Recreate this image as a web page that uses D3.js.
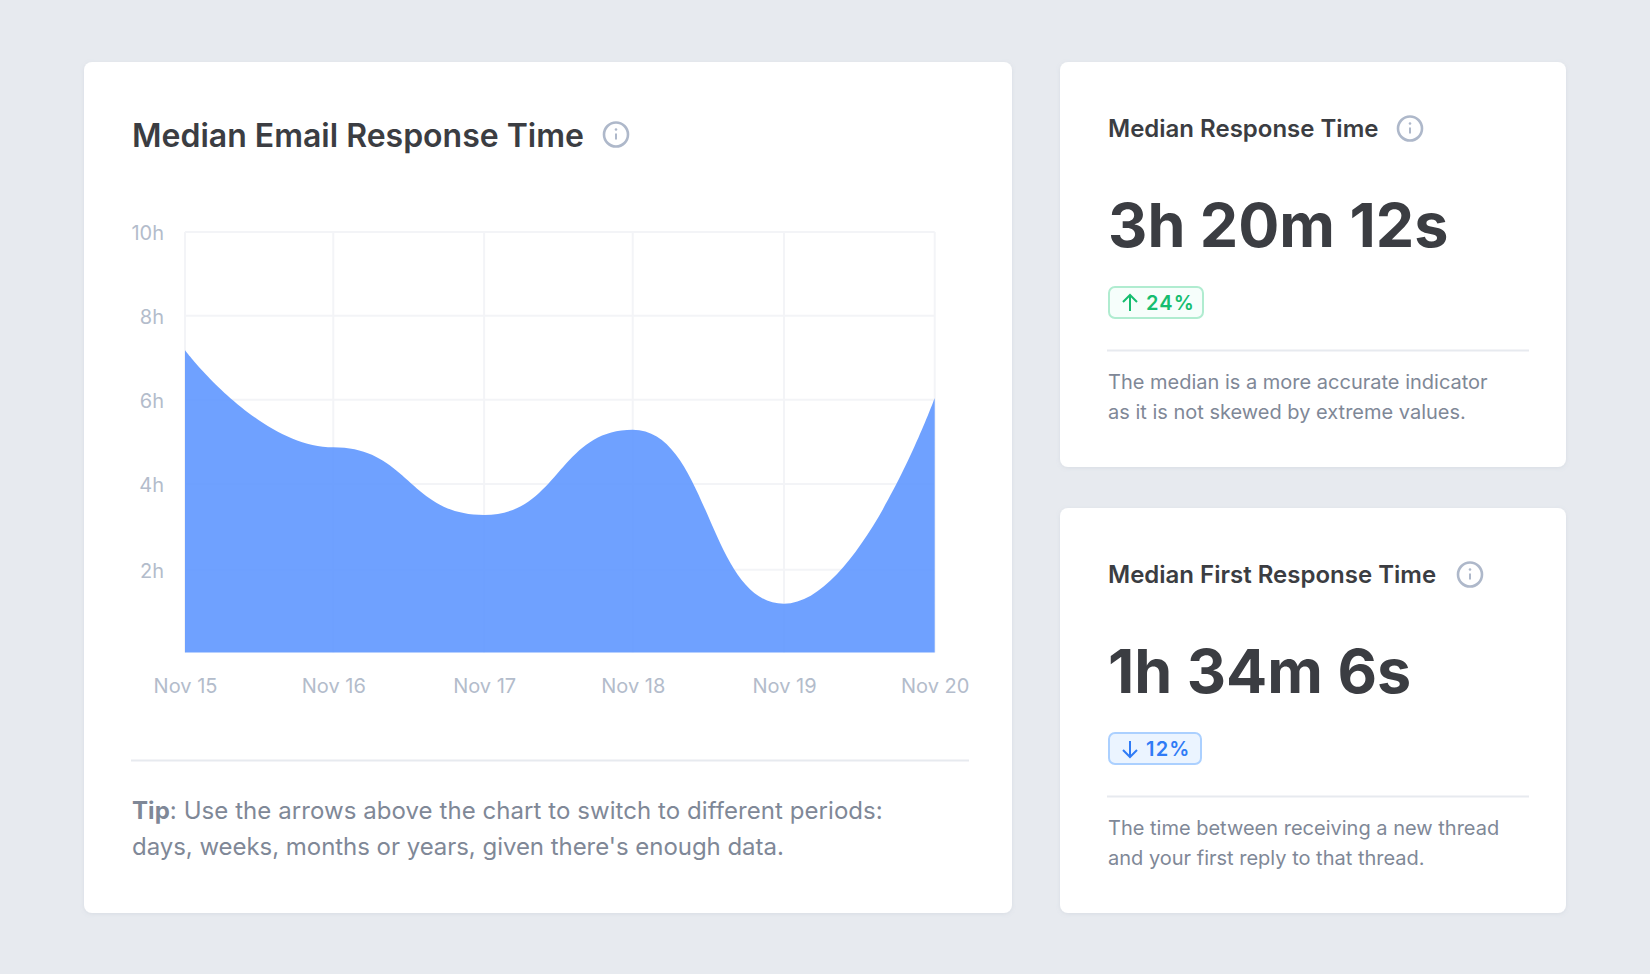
<!DOCTYPE html>
<html>
<head>
<meta charset="utf-8">
<script src="https://cdn.jsdelivr.net/npm/d3@7"></script>
<style>
  html, body { margin: 0; padding: 0; background: #e7eaef; }
  svg { display: block; }
  text { font-family: Inter, "Noto Sans", sans-serif; }
</style>
</head>
<body>
<svg id="page" width="1650" height="974"></svg>
<script>
// chart data
var dayLabels = ['Nov 15', 'Nov 16', 'Nov 17', 'Nov 18', 'Nov 19', 'Nov 20'];
var dayOffsets = [0, 0.989, 1.995, 2.986, 3.995, 5];   // grid is not quite even in the picture
var responseHours = [7.19, 4.88, 3.27, 5.3, 1.16, 6.05];
var hourTicks = [1.97, 4.01, 6.01, 8.01, 10];

var titleMain = 'Median Email Response Time';
var tipBold = 'Tip';
var tipRest = ': Use the arrows above the chart to switch to different periods:';
var tipLine2 = "days, weeks, months or years, given there's enough data.";

var sideTitles = ['Median Response Time', 'Median First Response Time'];
var sideValues = ['3h 20m 12s', '1h 34m 6s'];
var sideChanges = ['24%', '12%'];
var sideNotes = [
  ['The median is a more accurate indicator', 'as it is not skewed by extreme values.'],
  ['The time between receiving a new thread', 'and your first reply to that thread.']
];

var svg = d3.select('#page');

var defs = svg.append('defs');
var shadow = defs.append('filter').attr('id', 'cardShadow')
  .attr('x', '-5%').attr('y', '-5%').attr('width', '110%').attr('height', '110%');
shadow.append('feDropShadow').attr('dx', 0).attr('dy', 1).attr('stdDeviation', 2)
  .attr('flood-color', '#8a94a6').attr('flood-opacity', 0.16);

function card(x, y, w, h) {
  svg.append('rect').attr('x', x).attr('y', y).attr('width', w).attr('height', h)
    .attr('rx', 8).attr('fill', '#fff').attr('filter', 'url(#cardShadow)');
}

function infoIcon(cx, cy) {
  var g = svg.append('g').attr('transform', 'translate(' + cx + ',' + cy + ')')
    .attr('fill', 'none').attr('stroke', '#aeb8ca').attr('stroke-width', 2.6);
  g.append('circle').attr('r', 12);
  g.append('line').attr('x1', 0).attr('x2', 0).attr('y1', -1).attr('y2', 5).attr('stroke-width', 2);
  g.append('circle').attr('cy', -5).attr('r', 1.3).attr('fill', '#aeb8ca').attr('stroke', 'none');
}

// flat at every inner point, handles at half the gap, the two end segments
// have no handle on the outer point
function flatKnots(context) {
  var line = NaN, pts = [];
  return {
    areaStart: function () { line = 0; },
    areaEnd: function () { line = NaN; },
    lineStart: function () { pts = []; },
    point: function (x, y) { pts.push([+x, +y]); },
    lineEnd: function () {
      pts.forEach(function (p, i) {
        if (i == 0) {
          if (line) context.lineTo(p[0], p[1]); else context.moveTo(p[0], p[1]);
          return;
        }
        var q = pts[i - 1], mid = (q[0] + p[0]) / 2;
        context.bezierCurveTo(
          i == 1 ? q[0] : mid, q[1],
          i == pts.length - 1 ? p[0] : mid, p[1],
          p[0], p[1]);
      });
      if (line || (line !== 0 && pts.length == 1)) context.closePath();
      line = 1 - line;
    }
  };
}

// main card
card(84, 62, 928, 851);

svg.append('text').attr('x', 132).attr('y', 147)
  .attr('font-size', 32).attr('font-weight', 600).attr('fill', '#3b3d42').text(titleMain);
infoIcon(616, 134.5);

var plotLeft = 185, plotRight = 934.7, plotTop = 232, plotBottom = 652.5;

var x = d3.scaleLinear().domain([0, 5]).range([plotLeft, plotRight]);
var y = d3.scaleLinear().domain([0, 10]).range([plotBottom, plotTop]);

var grid = svg.append('g').attr('stroke', '#f3f4f7').attr('stroke-width', 2);
grid.selectAll('line.v').data(dayOffsets).enter().append('line').attr('class', 'v')
  .attr('x1', function (d) { return x(d); }).attr('x2', function (d) { return x(d); })
  .attr('y1', plotTop).attr('y2', plotBottom);
grid.selectAll('line.h').data(hourTicks).enter().append('line').attr('class', 'h')
  .attr('x1', plotLeft).attr('x2', plotRight)
  .attr('y1', function (d) { return y(d); }).attr('y2', function (d) { return y(d); });

var area = d3.area()
  .x(function (d, i) { return x(dayOffsets[i]); })
  .y0(y(0))
  .y1(function (d) { return y(d); })
  .curve(flatKnots);

svg.append('path').datum(responseHours).attr('d', area)
  .attr('fill', '#5b94ff').attr('fill-opacity', 0.88);

var yAxis = d3.axisLeft(y).tickValues(hourTicks).tickSize(0).tickPadding(0)
  .tickFormat(function (d) { return Math.round(d) + 'h'; });
var yG = svg.append('g').attr('transform', 'translate(164,1.2)').call(yAxis);
yG.select('.domain').remove();
yG.selectAll('text').attr('font-family', 'Inter').attr('font-size', 20).attr('fill', '#b3bccb');

var xAxis = d3.axisBottom(x).tickValues(dayOffsets).tickSize(0).tickPadding(0)
  .tickFormat(function (d, i) { return dayLabels[i]; });
var xG = svg.append('g').attr('transform', 'translate(0,679)').call(xAxis);
xG.select('.domain').remove();
xG.selectAll('text').attr('font-family', 'Inter').attr('font-size', 20).attr('fill', '#b3bccb');

svg.append('line').attr('x1', 131).attr('x2', 969).attr('y1', 760.5).attr('y2', 760.5)
  .attr('stroke', '#e7eaef').attr('stroke-width', 2);

var tip = svg.append('text').attr('x', 132).attr('y', 819)
  .attr('font-size', 24).attr('letter-spacing', 0.065).attr('fill', '#7f8897');
tip.append('tspan').attr('font-weight', 700).text(tipBold);
tip.append('tspan').text(tipRest);
svg.append('text').attr('x', 132).attr('y', 855).attr('letter-spacing', -0.04)
  .attr('font-size', 24).attr('fill', '#7f8897').text(tipLine2);

// side cards
var sideTops = [62, 508];
var iconX = [1410, 1470];
var badgeWidth = [94, 92];
var badgeStroke = ['#b0ecd0', '#abd0ff'];
var badgeFill = ['#f6fefb', '#ebf4ff'];
var badgeText = ['#16bd6f', '#2f7bf6'];

sideTitles.forEach(function (t, i) {
  var top = sideTops[i];
  card(1060, top, 506, 405);
  svg.append('text').attr('x', 1108).attr('y', top + 75)
    .attr('font-size', 24).attr('font-weight', 600).attr('fill', '#3b3d42').text(t);
  infoIcon(iconX[i], top + 66.5);
  svg.append('text').attr('x', 1108).attr('y', top + 185)
    .attr('font-size', 61).attr('font-weight', 700).attr('fill', '#3b3d42').text(sideValues[i]);

  svg.append('rect').attr('x', 1109).attr('y', top + 225).attr('width', badgeWidth[i]).attr('height', 31)
    .attr('rx', 6).attr('fill', badgeFill[i]).attr('stroke', badgeStroke[i]).attr('stroke-width', 2);
  var ax = 1130, ay0 = top + 233, ay1 = top + 249;
  var arrow = i == 0
    ? 'M' + ax + ' ' + ay1 + 'V' + ay0 + 'M' + (ax - 7) + ' ' + (ay0 + 7) + 'L' + ax + ' ' + ay0 + 'L' + (ax + 7) + ' ' + (ay0 + 7)
    : 'M' + ax + ' ' + ay0 + 'V' + ay1 + 'M' + (ax - 7) + ' ' + (ay1 - 7) + 'L' + ax + ' ' + ay1 + 'L' + (ax + 7) + ' ' + (ay1 - 7);
  svg.append('path').attr('d', arrow).attr('fill', 'none').attr('stroke', badgeText[i]).attr('stroke-width', 2);
  svg.append('text').attr('x', 1146).attr('y', top + 248)
    .attr('font-size', 20).attr('font-weight', 600).attr('letter-spacing', 1.2)
    .attr('fill', badgeText[i]).text(sideChanges[i]);

  svg.append('line').attr('x1', 1107).attr('x2', 1529).attr('y1', top + 288.5).attr('y2', top + 288.5)
    .attr('stroke', '#e7eaef').attr('stroke-width', 2);
  sideNotes[i].forEach(function (line, j) {
    svg.append('text').attr('x', 1108).attr('y', top + 327 + j * 30)
      .attr('font-size', 20).attr('fill', '#7f8897').text(line);
  });
});
</script>
</body>
</html>
